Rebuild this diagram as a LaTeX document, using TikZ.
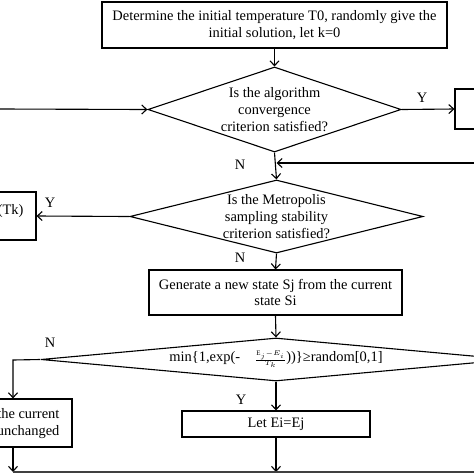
\documentclass[tikz,border=0pt]{standalone}
\usepackage{fontspec}
\setmainfont{Liberation Serif}
\usepackage{amsmath}
\usetikzlibrary{shapes}
\usetikzlibrary{arrows.meta}

\begin{document}
\begin{tikzpicture}[x=0.72pt,y=-0.72pt,line width=0.8pt,
  >={Straight Barb[length=3.5pt,width=6.5pt]},
  box/.style={draw, rectangle, align=center, inner sep=0pt, font=\fontsize{10.4}{12.2}\selectfont},
  dec/.style={draw, diamond, align=center, inner sep=0pt, font=\fontsize{10.4}{12.2}\selectfont},
  lbl/.style={font=\fontsize{10.4}{12.2}\selectfont}]
\useasboundingbox (0,0) rectangle (474,474);
% boxes and decisions
\node[box, minimum width=248.4pt, minimum height=33.1pt] (init) at (274.5,25) {Determine the initial temperature T0, randomly give the\\initial solution, let k=0};
\node[dec, aspect=3, minimum width=182.2pt, minimum height=61.2pt] (conv) at (274.5,109.5) {Is the algorithm\\convergence\\criterion satisfied?};
\node[box, minimum width=50.4pt, minimum height=28.8pt] (out) at (490,109) {};
\node[dec, aspect=4, minimum width=211pt, minimum height=52.6pt] (metro) at (276.5,216.5) {Is the Metropolis\\sampling stability\\criterion satisfied?};
\node[box, minimum width=54.7pt, minimum height=34.6pt] (outtk) at (-2,216) {};
\node[lbl, anchor=east, inner sep=0pt] (tklbl) at (24,211) {(Tk)};
\node[box, minimum width=182.2pt, minimum height=32.4pt] (gen) at (275.5,292.5) {Generate a new state Sj from the current\\state Si};
\node[dec, aspect=11, minimum width=338.4pt, minimum height=31pt] (acc) at (276,359.5) {min\{1,exp(-\quad{\tiny$\frac{\mathrm{E}_j-E_i}{T_k}$}))\}≥random[0,1]};
\node[box, minimum width=80.6pt, minimum height=34.6pt] (keep) at (16,423) {};
\node[lbl, anchor=east, align=right, inner sep=0pt] (keeplbl) at (60,424) {the current\\unchanged};
\node[box, minimum width=135.4pt, minimum height=18.7pt] (let) at (276,424) {Let Ei=Ej};
% free ends
\coordinate (inl) at (0,109);
\coordinate (inr) at (474,163);
\coordinate (kin) at (13,360);
\coordinate (kbot) at (13,472);
\coordinate (lbot) at (276,472);
\coordinate (rbot) at (474,472);
% connectors
\draw[->] (init) -- (conv);
\draw[->] (inl) -- (conv.west);
\draw[->] (conv.east) -- (out.west);
\draw[->] (conv.south) -- (metro.north);
\draw[->] (inr) -- (inr -| metro.north);
\draw[->] (metro.west) -- (outtk.east);
\draw[->] (metro.south) -- (gen.north);
\draw[->] (gen.south) -- (acc.north);
\draw[->] (acc.west) -- (kin) -- (kin |- keep.north);
\draw[->] (acc.south) -- (let.north);
\draw[->] (kin |- keep.south) -- (kbot);
\draw[->] (let.south) -- (lbot);
\draw[line width=1.6pt, gray!50!black] (kbot) -- (rbot);
% labels
\node[lbl] (y1) at (422,98) {Y};
\node[lbl] (n1) at (240,165) {N};
\node[lbl] (y2) at (50,203) {Y};
\node[lbl] (n2) at (240,258) {N};
\node[lbl] (n3) at (50,343) {N};
\node[lbl] (y3) at (241,400) {Y};
\end{tikzpicture}
\end{document}
